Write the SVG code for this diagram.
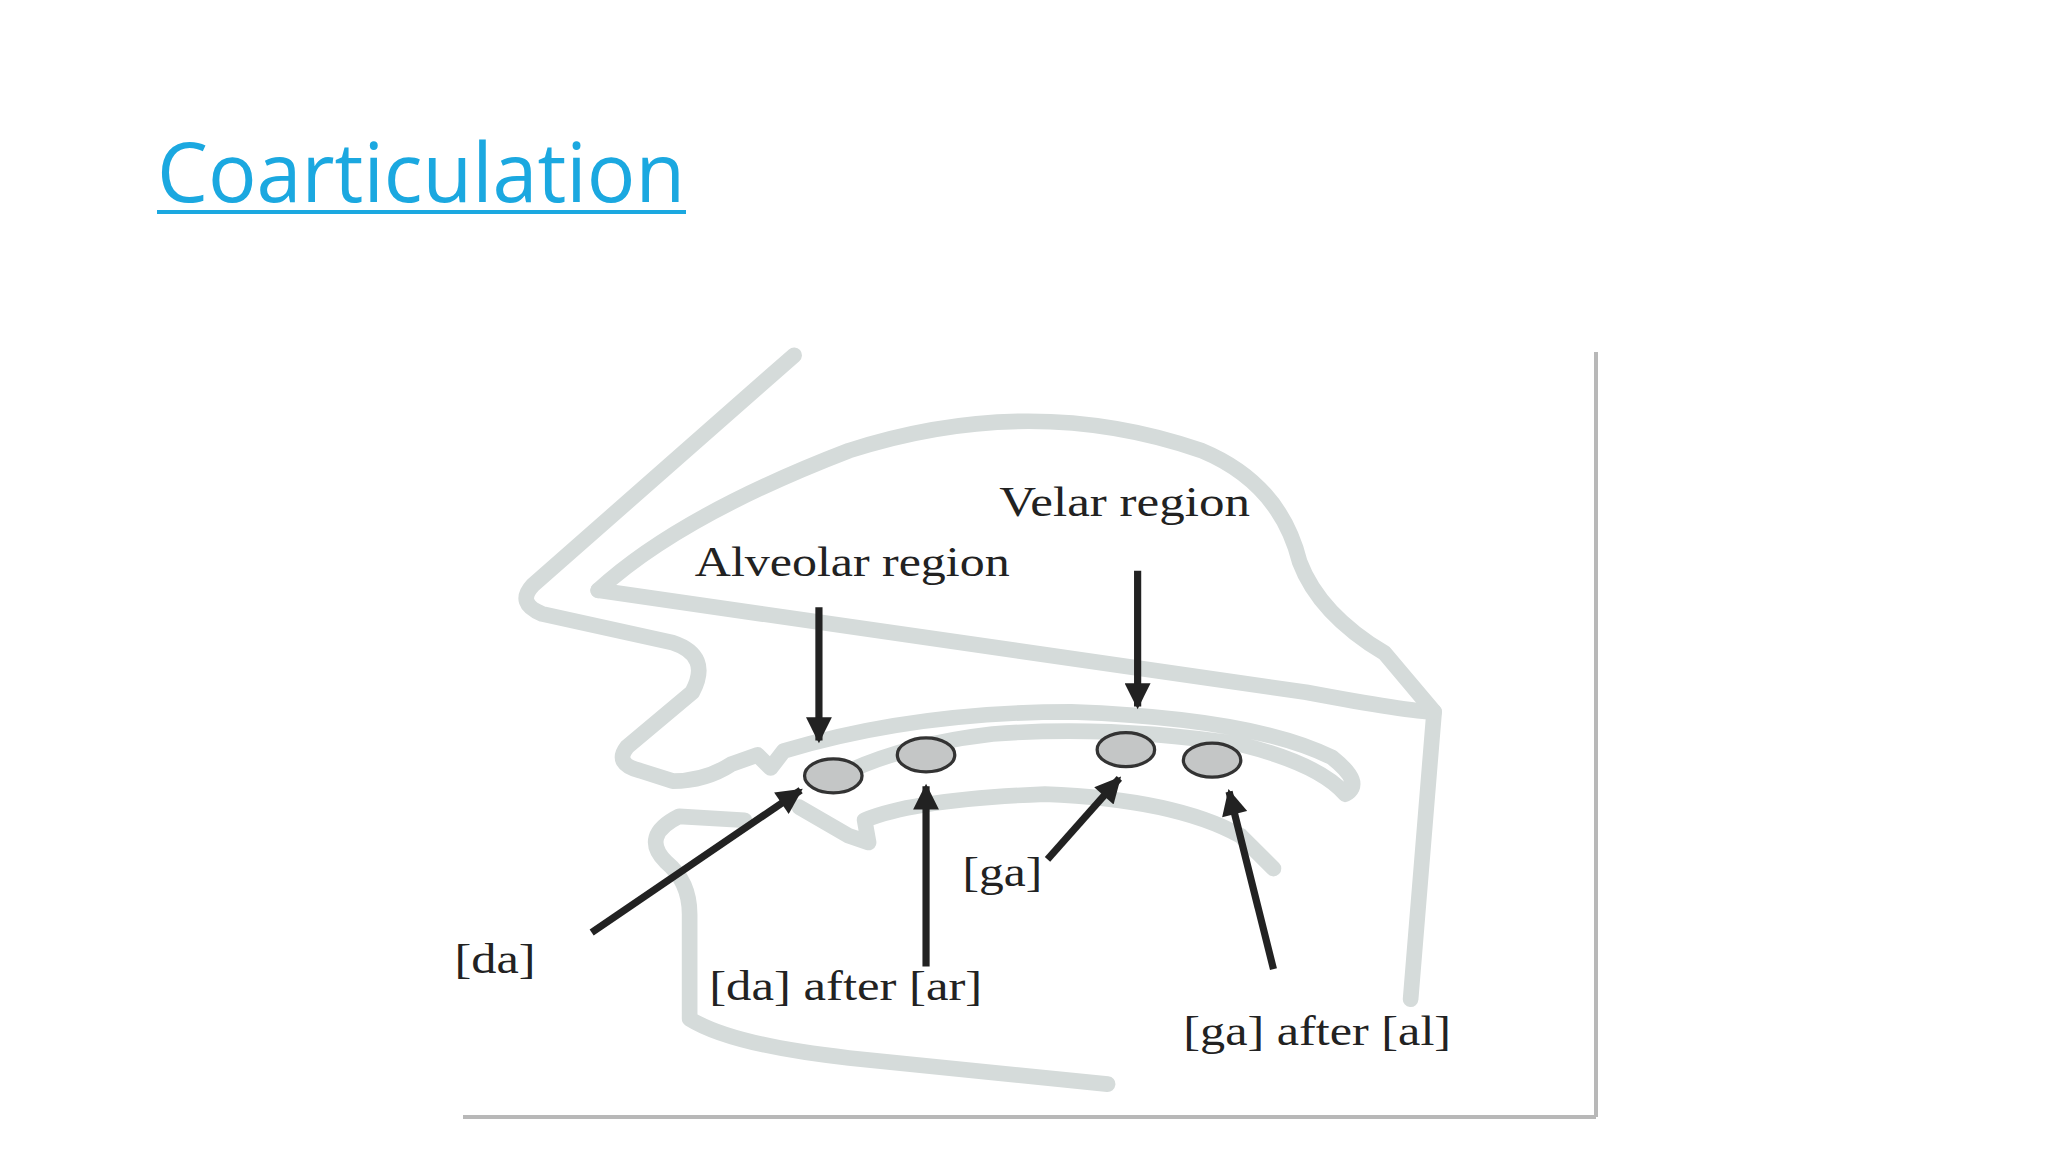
<svg xmlns="http://www.w3.org/2000/svg" width="2048" height="1152" viewBox="0 0 2048 1152">
<defs>
<marker id="ah" viewBox="0 0 10 10" refX="9" refY="5" markerWidth="4" markerHeight="3.6" orient="auto" markerUnits="strokeWidth"><path d="M0,0 L10,5 L0,10 z" fill="#222"/></marker>
</defs>
<style>
.g{fill:none;stroke:#d5dbda;stroke-width:12;stroke-linecap:round;stroke-linejoin:round}
.a{stroke:#222;stroke-width:5.5;fill:none;marker-end:url(#ah)}
.e{fill:#c4c6c6;stroke:#333;stroke-width:2.5}
.t{font-family:"Liberation Serif",serif;font-size:33px;fill:#222}
</style>
<rect width="2048" height="1152" fill="#fff"/>
<g id="title">
<text x="157" y="202" font-family="'Open Sans','Liberation Sans',sans-serif" font-size="82" fill="#1ba8e0" textLength="528" lengthAdjust="spacingAndGlyphs">Coarticulation</text>
<line x1="157" y1="212" x2="686" y2="212" stroke="#1ba8e0" stroke-width="4"/>
</g>
<g id="frame" stroke="#b8b8b8" stroke-width="4" fill="none">
<line x1="1596" y1="352" x2="1596" y2="1117"/>
<line x1="463" y1="1117" x2="1596" y2="1117"/>
</g>
<g transform="scale(1.30612)">
<g id="anatomy">
<path class="g" d="M608,272 L408,448 Q395,462 415,470 L515,492 Q545,502 530,530 L480,572 Q470,585 490,590 L515,598 Q540,598 560,585 L580,578 L590,588 L600,575 Q700,545 820,545 Q960,550 1020,580 Q1045,600 1030,608 Q1010,585 950,570 Q850,555 760,562 Q690,570 640,595"/>
<path class="g" d="M458,452 L1000,530 Q1080,545 1098,545 L1080,765"/>
<path class="g" d="M458,452 Q520,395 650,345 Q790,300 920,345 Q980,370 995,430 Q1010,470 1060,500 L1098,545"/>
<path class="g" d="M612,618 L650,640 L665,645 L662,628 Q700,612 800,608 Q900,612 950,640 L975,665"/>
<path class="g" d="M570,628 L520,625 Q490,640 510,660 Q528,675 528,700 L528,780 Q560,800 650,810 L848,830"/>
</g>
<g id="spots">
<ellipse id="s1" class="e" cx="638" cy="594" rx="22" ry="13"/>
<ellipse id="s2" class="e" cx="709" cy="578" rx="22" ry="13"/>
<ellipse id="s3" class="e" cx="862" cy="574" rx="22" ry="13"/>
<ellipse id="s4" class="e" cx="928" cy="582" rx="22" ry="13"/>
</g>
<g id="connectors">
<line class="a" x1="627" y1="465" x2="627" y2="567"/>
<line class="a" x1="871" y1="437" x2="871" y2="541"/>
<line class="a" x1="453" y1="714" x2="613" y2="605"/>
<line class="a" x1="709" y1="740" x2="709" y2="602"/>
<line class="a" x1="802" y1="658" x2="857" y2="596"/>
<line class="a" x1="975" y1="742" x2="941" y2="606"/>
</g>
<g id="labels">
<text class="t" x="765" y="395" textLength="192" lengthAdjust="spacingAndGlyphs">Velar region</text>
<text class="t" x="532" y="441" textLength="241" lengthAdjust="spacingAndGlyphs">Alveolar region</text>
<text class="t" x="737" y="678" textLength="61" lengthAdjust="spacingAndGlyphs">[ga]</text>
<text class="t" x="348" y="745" textLength="62" lengthAdjust="spacingAndGlyphs">[da]</text>
<text class="t" x="543" y="766" textLength="209" lengthAdjust="spacingAndGlyphs">[da] after [ar]</text>
<text class="t" x="906" y="800" textLength="205" lengthAdjust="spacingAndGlyphs">[ga] after [al]</text>
</g>
</g>
</svg>
